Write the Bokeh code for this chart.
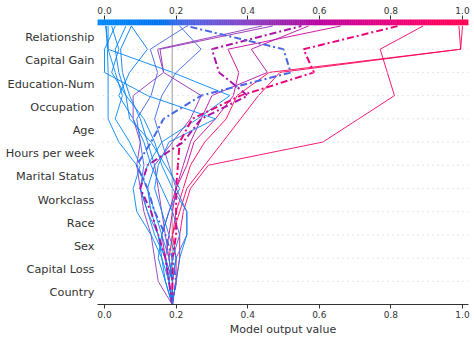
import numpy as np
from bokeh.plotting import figure
from bokeh.models import Range1d, LinearAxis, FixedTicker, PrintfTickFormatter, Span
from bokeh.embed import file_html
from bokeh.resources import INLINE

# ---------------- data ----------------
feature_names = ["Relationship", "Capital Gain", "Education-Num", "Occupation", "Age",
                 "Hours per week", "Marital Status", "Workclass", "Race", "Sex",
                 "Capital Loss", "Country"]          # top -> bottom
base_value = 0.189
x_ticks = [0.0, 0.2, 0.4, 0.6, 0.8, 1.0]

# cumulative model output of each observation, from the base value (bottom, below
# "Country") up to the final model output (top, above "Relationship")
paths = [
    [0.189, 0.20, 0.20, 0.19, 0.21, 0.23, 0.28, 0.33, 0.38, 0.43, 0.49, 0.995, 1.00],
    [0.189, 0.19, 0.18, 0.19, 0.20, 0.22, 0.24, 0.28, 0.34, 0.37, 0.46, 0.995, 0.99],
    [0.189, 0.20, 0.21, 0.21, 0.22, 0.24, 0.29, 0.61, 0.71, 0.81, 0.79, 0.77, 0.89],
    [0.189, 0.18, 0.17, 0.18, 0.19, 0.20, 0.23, 0.25, 0.31, 0.36, 0.375, 0.345, 0.66],
    [0.189, 0.19, 0.17, 0.16, 0.18, 0.20, 0.22, 0.24, 0.27, 0.30, 0.455, 0.41, 0.57],
    [0.189, 0.19, 0.18, 0.17, 0.16, 0.15, 0.14, 0.19, 0.24, 0.27, 0.165, 0.155, 0.47],
    [0.189, 0.15, 0.14, 0.13, 0.11, 0.10, 0.09, 0.10, 0.08, 0.08, 0.165, 0.148, 0.44],
    [0.189, 0.18, 0.17, 0.15, 0.12, 0.10, 0.11, 0.10, 0.09, 0.13, 0.148, 0.128, 0.23],
    [0.189, 0.19, 0.20, 0.23, 0.23, 0.20, 0.18, 0.16, 0.14, 0.16, 0.20, 0.27, 0.21],
    [0.189, 0.17, 0.16, 0.15, 0.13, 0.12, 0.14, 0.12, 0.10, 0.07, 0.05, 0.045, 0.075],
    [0.189, 0.18, 0.19, 0.21, 0.19, 0.16, 0.13, 0.11, 0.08, 0.04, 0.07, 0.12, 0.075],
    [0.189, 0.19, 0.17, 0.14, 0.12, 0.10, 0.12, 0.16, 0.26, 0.35, 0.19, 0.01, 0.01],
    [0.189, 0.19, 0.18, 0.16, 0.14, 0.12, 0.09, 0.04, 0.01, 0.01, 0.01, 0.008, 0.005],
    [0.189, 0.18, 0.16, 0.13, 0.09, 0.08, 0.10, 0.07, 0.03, 0.05, 0.03, 0.01, 0.003],
    [0.189, 0.20, 0.21, 0.23, 0.23, 0.19, 0.16, 0.14, 0.11, 0.06, 0.02, 0.04, 0.02],
    [0.189, 0.19, 0.20, 0.18, 0.16, 0.14, 0.15, 0.18, 0.31, 0.12, 0.0, 0.0, 0.03],
    [0.189, 0.17, 0.15, 0.16, 0.18, 0.21, 0.17, 0.13, 0.07, 0.06, 0.04, 0.03, 0.06],
]
# highlighted observations (drawn dash-dot)
highlighted = [
    [0.189, 0.19, 0.19, 0.20, 0.20, 0.20, 0.205, 0.21, 0.245, 0.38, 0.585, 0.556, 0.82],
    [0.189, 0.18, 0.17, 0.15, 0.13, 0.10, 0.12, 0.22, 0.27, 0.40, 0.32, 0.30, 0.55],
    [0.189, 0.20, 0.19, 0.17, 0.14, 0.12, 0.09, 0.13, 0.165, 0.27, 0.52, 0.50, 0.23],
]

# ---------------- colour map (shap red_blue, LCH interpolation) ----------------
def lch2rgb(l, c, h):
    a, b = c * np.cos(h), c * np.sin(h)
    fy = (l + 16) / 116.0
    fx, fz = fy + a / 500.0, fy - b / 200.0

    def finv(t):
        return t ** 3 if t ** 3 > 0.008856 else (t - 16 / 116.0) / 7.787

    X, Y, Z = 0.95047 * finv(fx), finv(fy), 1.08883 * finv(fz)
    r = 3.2404542 * X - 1.5371385 * Y - 0.4985314 * Z
    g = -0.9692660 * X + 1.8760108 * Y + 0.0415560 * Z
    bl = 0.0556434 * X - 0.2040259 * Y + 1.0572252 * Z

    def gam(u):
        u = min(max(u, 0.0), 1.0)
        return 12.92 * u if u <= 0.0031308 else 1.055 * u ** (1 / 2.4) - 0.055

    return "#%02x%02x%02x" % tuple(int(round(255 * min(max(gam(u), 0), 1))) for u in (r, g, bl))


def cmap(t):
    t = min(max(t, 0.0), 1.0)
    l = 54 + (40 - 54) * (t / 0.5) if t <= 0.5 else 40 + (54 - 40) * ((t - 0.5) / 0.5)
    c = 70 + (90 - 70) * t
    h = 4.6588 + t * (0.35470565 + 2 * np.pi - 4.6588)
    return lch2rgb(l, c, h)


X0, X1 = -0.0196, 1.0168
Y_TOP = 12.28
n = len(feature_names)

p = figure(width=474, height=338, output_backend="svg", toolbar_location=None,
           x_range=Range1d(X0, X1), y_range=Range1d(0, Y_TOP),
           min_border_left=97, min_border_right=6, min_border_top=19, min_border_bottom=34)
p.outline_line_color = None
p.grid.visible = False
p.background_fill_color = "white"

FONT = "DejaVu Sans"
TXT = "#333333"

# dotted row separators
for k in range(1, n):
    p.add_layout(Span(location=k, dimension="width", line_color="#cccccc",
                      line_width=1, line_dash="1 4"))

# base value line
p.segment(x0=[base_value], y0=[0], x1=[base_value], y1=[12.04], line_color="#999999", line_width=1)

ys = list(range(n + 1))
norm = lambda v: (v - X0) / (X1 - X0)
for path in paths:
    p.line(x=path, y=ys, line_color=cmap(norm(path[-1])), line_width=1, line_alpha=0.9)
for path in highlighted:
    p.line(x=path, y=ys, line_color=cmap(norm(path[-1])), line_width=2,
           line_dash="7 3 2 3")

# colour bar across the top
edges = np.linspace(X0, X1, 201)
mids = (edges[:-1] + edges[1:]) / 2
cols = [cmap(norm(m)) for m in mids]
p.quad(left=edges[:-1], right=edges[1:], bottom=12.04, top=Y_TOP,
       fill_color=cols, line_color=cols, line_width=0.5)

# axes
p.xaxis.ticker = FixedTicker(ticks=x_ticks)
p.xaxis.formatter = PrintfTickFormatter(format="%.1f")
p.xaxis.axis_label = "Model output value"
p.xaxis.axis_label_text_font = FONT
p.xaxis.axis_label_text_font_size = "11px"
p.xaxis.axis_label_text_font_style = "normal"
p.xaxis.axis_label_text_color = TXT
p.xaxis.axis_label_standoff = 2
p.xaxis.major_label_text_font = FONT
p.xaxis.major_label_text_font_size = "9px"
p.xaxis.major_label_text_color = TXT
p.xaxis.major_label_standoff = 2
p.xaxis.axis_line_color = TXT
p.xaxis.major_tick_line_color = TXT
p.xaxis.major_tick_out = 4
p.xaxis.major_tick_in = 0
p.xaxis.minor_tick_line_color = None

p.yaxis.ticker = FixedTicker(ticks=[i + 0.5 for i in range(n)])
p.yaxis.major_label_overrides = {i + 0.5: name for i, name in enumerate(reversed(feature_names))}
p.yaxis.major_label_text_font = FONT
p.yaxis.major_label_text_font_size = "11.3px"
p.yaxis.major_label_text_color = TXT
p.yaxis.major_label_standoff = 3
p.yaxis.major_tick_out = 0
p.yaxis.major_tick_in = 0
p.yaxis.axis_line_color = None
p.yaxis.major_tick_line_color = None
p.yaxis.minor_tick_line_color = None

top = LinearAxis(ticker=FixedTicker(ticks=x_ticks), formatter=PrintfTickFormatter(format="%.1f"))
top.axis_line_color = None
top.major_tick_line_color = TXT
top.major_tick_out = 4
top.major_tick_in = 0
top.minor_tick_line_color = None
top.major_label_text_font = FONT
top.major_label_text_font_size = "9px"
top.major_label_text_color = TXT
top.major_label_standoff = 2
p.add_layout(top, "above")

open("out.html", "w").write(file_html(p, INLINE))
